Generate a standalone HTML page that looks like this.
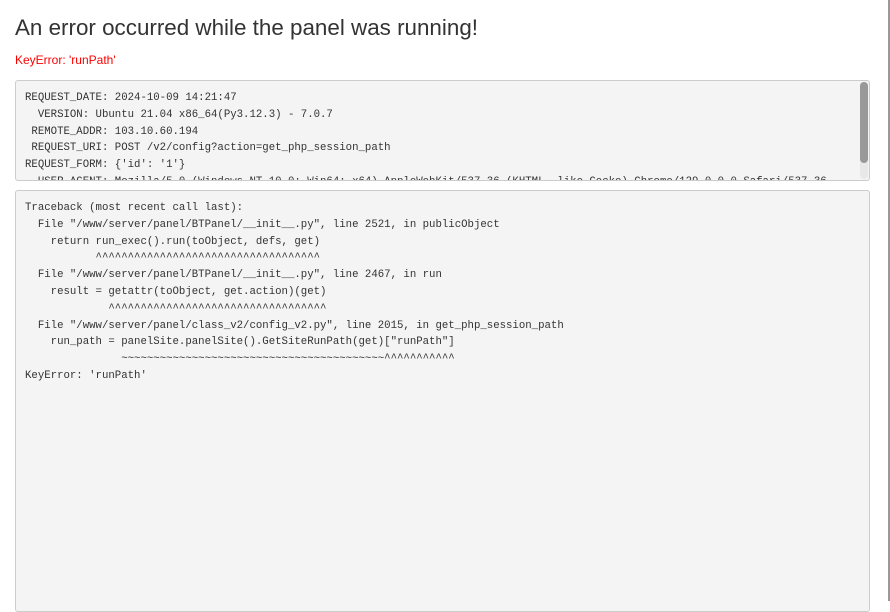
<!DOCTYPE html>
<html><head><meta charset="utf-8"><style>
body{margin:0;width:890px;height:601px;overflow:hidden;background:#fff;position:relative;font-family:"Liberation Sans",sans-serif}
h1{position:absolute;left:15px;top:15px;margin:0;font-weight:normal;font-size:22.4px;color:#333;white-space:nowrap}
.err{position:absolute;left:15px;top:53px;font-size:12px;color:#f00}
.box{position:absolute;left:15px;width:853px;background:#f4f4f4;border:1px solid #ccc;border-radius:3px;overflow:hidden}
pre{margin:0;font-family:"Liberation Mono",monospace;font-size:10.7px;line-height:16.8px;color:#333;white-space:pre}
.sb{position:absolute;right:1px;top:1px;width:8px;height:97px;background:#e8e8e8;border-radius:4px}
.th{position:absolute;right:1px;top:1px;width:8px;height:81px;background:#999;border-radius:4px}
.edge{position:absolute;right:0;top:0;width:2px;height:601px;background:#999}
</style></head><body>
<h1>An error occurred while the panel was running!</h1>
<div class="err">KeyError: 'runPath'</div>
<div class="box" style="top:80px;height:99px">
<pre style="padding:9px 0 0 9px">REQUEST_DATE: 2024-10-09 14:21:47
  VERSION: Ubuntu 21.04 x86_64(Py3.12.3) - 7.0.7
 REMOTE_ADDR: 103.10.60.194
 REQUEST_URI: POST /v2/config?action=get_php_session_path
REQUEST_FORM: {'id': '1'}
  USER_AGENT: Mozilla/5.0 (Windows NT 10.0; Win64; x64) AppleWebKit/537.36 (KHTML, like Gecko) Chrome/129.0.0.0 Safari/537.36</pre>
<div class="sb"></div><div class="th"></div>
</div>
<div class="box" style="top:190px;height:420px">
<pre style="padding:9px 0 0 9px">Traceback (most recent call last):
  File "/www/server/panel/BTPanel/__init__.py", line 2521, in publicObject
    return run_exec().run(toObject, defs, get)
           ^^^^^^^^^^^^^^^^^^^^^^^^^^^^^^^^^^^
  File "/www/server/panel/BTPanel/__init__.py", line 2467, in run
    result = getattr(toObject, get.action)(get)
             ^^^^^^^^^^^^^^^^^^^^^^^^^^^^^^^^^^
  File "/www/server/panel/class_v2/config_v2.py", line 2015, in get_php_session_path
    run_path = panelSite.panelSite().GetSiteRunPath(get)["runPath"]
               ~~~~~~~~~~~~~~~~~~~~~~~~~~~~~~~~~~~~~~~~~^^^^^^^^^^^
KeyError: 'runPath'</pre>
</div>
<div class="edge"></div>
</body></html>
